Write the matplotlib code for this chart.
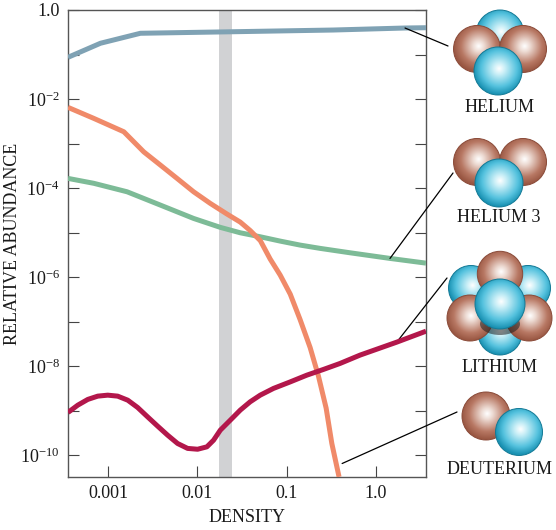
import numpy as np
import matplotlib
matplotlib.use('Agg')
import matplotlib.pyplot as plt
from matplotlib.patches import Circle, Ellipse

plt.rcParams['font.family'] = ['Liberation Serif', 'DejaVu Serif']
plt.rcParams['mathtext.fontset'] = 'custom'
plt.rcParams['mathtext.rm'] = 'Liberation Serif'
plt.rcParams['mathtext.it'] = 'Liberation Serif:italic'
plt.rcParams['mathtext.bf'] = 'Liberation Serif:bold'

# curves (density, relative abundance)
density_he = [3.55e-4, 8.2e-4, 2.3e-3, 0.0253, 0.333, 2.13, 3.66]
helium = [0.0865, 0.179, 0.30, 0.325, 0.355, 0.394, 0.40]

density_d = [3.55e-4, 6.9e-4, 1.50e-3, 2.51e-3, 3.85e-3, 5.92e-3, 9.08e-3, 0.01396, 0.0215,
             0.0303, 0.0392, 0.0508, 0.0656, 0.0849, 0.110, 0.142, 0.184, 0.228, 0.278, 0.322, 0.388]
deuterium = [6.5e-3, 3.68e-3, 1.84e-3, 6.5e-4, 3.29e-4, 1.65e-4, 8.26e-5, 4.53e-5, 2.61e-5,
             1.72e-5, 1.11e-5, 6.61e-6, 2.54e-6, 1.11e-6, 4.15e-7, 1.11e-7, 2.61e-8, 5.96e-9,
             1.14e-9, 1.83e-10, 3.25e-11]

density_he3 = [3.55e-4, 6.9e-4, 1.63e-3, 3.85e-3, 9.08e-3, 0.0181, 0.0303, 0.0508, 0.0849,
               0.142, 0.238, 0.515, 1.445, 3.66]
helium3 = [1.65e-4, 1.28e-4, 8.26e-5, 4.15e-5, 2.08e-5, 1.31e-5, 9.9e-6, 8.05e-6, 6.44e-6,
           5.24e-6, 4.42e-6, 3.52e-6, 2.63e-6, 2.06e-6]

density_li = [3.55e-4, 4.57e-4, 5.92e-4, 7.65e-4, 9.9e-4, 1.28e-3, 1.66e-3, 2.14e-3, 2.77e-3,
              3.59e-3, 4.65e-3, 6.01e-3, 7.78e-3, 0.01007, 0.0128, 0.0152, 0.0181, 0.0255,
              0.0303, 0.0391, 0.0507, 0.0714, 0.110, 0.169, 0.259, 0.398, 0.667, 1.72, 3.66]
lithium = [9.12e-10, 1.33e-9, 1.79e-9, 2.12e-9, 2.23e-9, 2.12e-9, 1.72e-9, 1.18e-9, 7.26e-10,
           4.49e-10, 2.81e-10, 1.83e-10, 1.42e-10, 1.36e-10, 1.54e-10, 2.17e-10, 3.65e-10, 7.26e-10,
           1.03e-9, 1.58e-9, 2.23e-9, 3.16e-9, 4.43e-9, 6.28e-9, 8.43e-9, 1.15e-8, 1.77e-8,
           3.46e-8, 6.1e-8]

band = (0.0173, 0.0244)  # shaded density range

x_ticks = [0.001, 0.01, 0.1, 1.0]
x_labels = ['0.001', '0.01', '0.1', '1.0']
y_ticks = [10.0 ** -k for k in range(11)]
y_labels = ['1.0', '', r'$10^{-2}$', '', r'$10^{-4}$', '', r'$10^{-6}$', '',
            r'$10^{-8}$', '', r'$10^{-10}$']

# name, point on curve it points to, label-end (fig px from top)
labels = ['HELIUM', 'HELIUM 3', 'LITHIUM', 'DEUTERIUM']
pointer_xy = [(2.13, 0.394), (1.445, 2.63e-6), (1.72, 3.46e-8), (0.42, 6.5e-11)]
pointer_end = [(448, 46), (453, 173), (447, 278), (457, 412)]
label_pos = [(500, 107), (499, 218), (500, 368), (500, 470)]

# atom pictures: (x, y, r, kind) in fig px from top, drawn in order
atoms = [
    [(500, 34, 24, 'p'), (477, 49, 23.5, 'n'), (523, 49, 23.5, 'n'), (498, 71, 24, 'p')],
    [(477, 162, 23.5, 'n'), (523, 162, 23.5, 'n'), (499, 183, 24, 'p')],
    [(471, 288, 22.5, 'p'), (528, 288, 22.5, 'p'), (500, 274, 22.7, 'n'), (500, 333, 22, 'p'),
     (470, 318, 23, 'n'), (529, 318, 23, 'n'), ('shadow',), (500, 304, 25, 'p')],
    [(486, 416, 24, 'n'), (519, 432, 23.5, 'p')],
]

fig = plt.figure(figsize=(5.56, 5.30), dpi=100)
ax = fig.add_axes([68 / 556, 1 - 477 / 530, 358 / 556, 467 / 530])

ax.axvspan(band[0], band[1], color='#d1d2d4', lw=0, zorder=1)
line_kw = dict(lw=3.6, solid_capstyle='butt', solid_joinstyle='round')
ax.plot(density_he, helium, color='#7fa2b4', zorder=3, **line_kw)
ax.plot(density_he3, helium3, color='#7dbb97', zorder=3, **line_kw)
ax.plot(density_d, deuterium, color='#f08a69', zorder=4, **line_kw)
ax.plot(density_li, lithium, color='#b3174b', zorder=5, **line_kw)

ax.set_xscale('log')
ax.set_yscale('log')
ax.set_xlim(3.55e-4, 3.66)
ax.set_ylim(10 ** -10.49, 1.0)
ax.set_xticks(x_ticks)
ax.set_xticklabels(x_labels)
ax.set_yticks(y_ticks)
ax.set_yticklabels(y_labels)
ax.minorticks_off()
ax.tick_params(axis='both', direction='in', length=8, width=0.8, color='#444444',
               labelsize=13, labelcolor='#1a1a1a')
ax.tick_params(axis='y', right=True, pad=6)
ax.tick_params(axis='x', pad=6)
for s in ax.spines.values():
    s.set_color('#555555')
    s.set_linewidth(1.0)

ax.set_xlabel('DENSITY', fontsize=13, color='#1a1a1a')
ax.set_ylabel('RELATIVE ABUNDANCE', fontsize=13, color='#1a1a1a')
ax.xaxis.set_label_coords(0.5, -0.068)
ax.yaxis.set_label_coords(-0.132, 0.5)

for xy, end in zip(pointer_xy, pointer_end):
    ax.annotate('', xy=xy, xycoords='data', xytext=(end[0], 530 - end[1]),
                textcoords='figure pixels', annotation_clip=False,
                arrowprops=dict(arrowstyle='-', color='black', lw=0.9, shrinkA=0, shrinkB=0))

# overlay for the atom drawings
ov = fig.add_axes([0, 0, 1, 1], zorder=5)
ov.patch.set_alpha(0)
ov.axis('off')

shades = {
    'n': ([0, 0.22, 0.7, 1.0],
          [(1, 1, 1), (0.93, 0.86, 0.83), (0.72, 0.47, 0.39), (0.60, 0.34, 0.26)],
          '#8a4a38'),
    'p': ([0, 0.22, 0.7, 1.0],
          [(1, 1, 1), (0.80, 0.94, 0.97), (0.33, 0.76, 0.87), (0.10, 0.57, 0.70)],
          '#137a96'),
}

g = np.linspace(-1, 1, 90)
X, Y = np.meshgrid(g, g)
dist = np.clip(np.hypot(X - 0.05, Y + 0.1) / 1.08, 0, 1)


def sphere(cx, cy, r, kind, z):
    pos, cols, edge = shades[kind]
    img = np.zeros(dist.shape + (3,))
    for c in range(3):
        img[..., c] = np.interp(dist, pos, [col[c] for col in cols])
    im = ov.imshow(img, extent=(cx - r, cx + r, cy + r, cy - r), zorder=z,
                   interpolation='bilinear', aspect='auto')
    circ = Circle((cx, cy), r, facecolor='none', edgecolor=edge, lw=0.7, zorder=z + 0.5)
    ov.add_patch(circ)
    im.set_clip_path(circ)


z = 1
for group in atoms:
    for a in group:
        if a[0] == 'shadow':
            ov.add_patch(Ellipse((500, 324), 40, 22, facecolor='#202020', alpha=0.55,
                                 edgecolor='none', zorder=z))
        else:
            sphere(a[0], a[1], a[2], a[3], z)
        z += 1

for name, (lx, ly) in zip(labels, label_pos):
    ov.text(lx, ly, name, ha='center', va='center', fontsize=13, color='#1a1a1a')

ov.set_xlim(0, 556)
ov.set_ylim(530, 0)

fig.savefig('out.png', dpi=100)
